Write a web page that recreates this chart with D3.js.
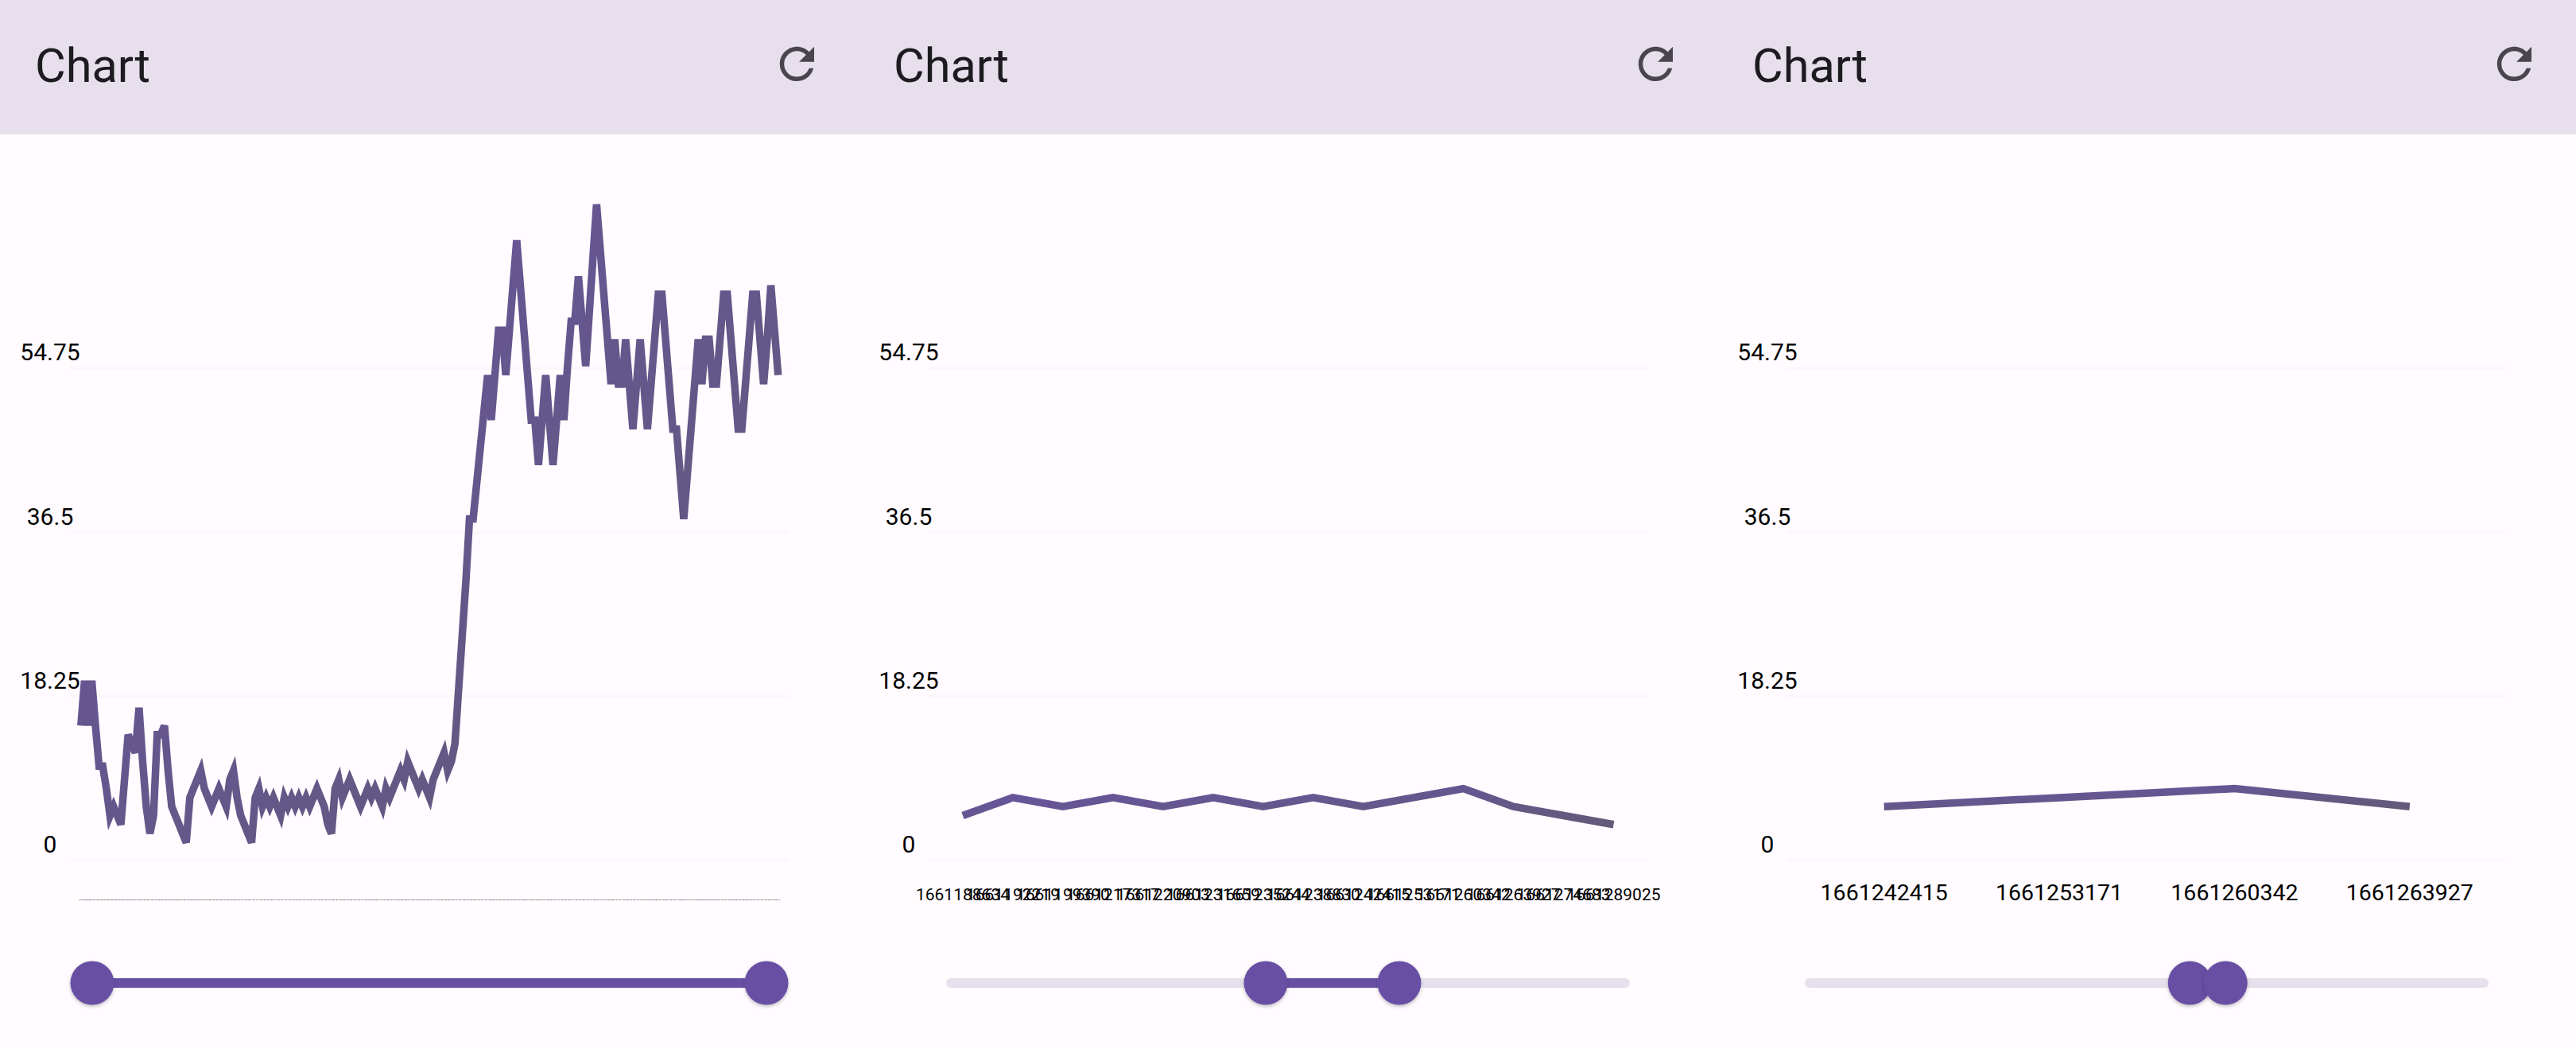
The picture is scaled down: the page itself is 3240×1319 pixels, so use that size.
<!DOCTYPE html>
<html>
<head>
<meta charset="utf-8">
<script src="https://cdn.jsdelivr.net/npm/d3@7"></script>
<style>
html,body{margin:0;padding:0;background:#FFFBFE;}
svg{display:block;}
</style>
</head>
<body>
<svg id="c" width="3240" height="1319"></svg>
<script>
const titleText = "Chart";
const yTicks = [0, 18.25, 36.5, 54.75];
const yMax = 73;

const stampsA = [
1660943415,1660947000,1660950586,1660954171,1660957757,1660961342,1660964927,1660968513,1660972098,1660975684,
1660979269,1660982854,1660986440,1660990025,1660993611,1660997196,1661000781,1661004367,1661007952,1661011538,
1661015123,1661018708,1661022294,1661025879,1661029465,1661033050,1661036635,1661040221,1661043806,1661047392,
1661050977,1661054562,1661058148,1661061733,1661065319,1661068904,1661072489,1661076075,1661079660,1661083246,
1661086831,1661090416,1661094002,1661097587,1661101173,1661104758,1661108343,1661111929,1661115514,1661119100,
1661122685,1661126270,1661129856,1661133441,1661137027,1661140612,1661144197,1661147783,1661151368,1661154954,
1661158539,1661162124,1661165710,1661169295,1661172881,1661176466,1661180051,1661183637,1661187222,1661190808,
1661194393,1661197978,1661201564,1661205149,1661208735,1661212320,1661215905,1661219491,1661223076,1661226662,
1661230247,1661233832,1661237418,1661241003,1661244589,1661248174,1661251759,1661255345,1661258930,1661262516,
1661266101,1661269686,1661273272,1661276857,1661280443,1661284028,1661287613,1661291199,1661294784,1661298370,
1661301955,1661305540,1661309126,1661312711,1661316297,1661319882,1661323467,1661327053,1661330638,1661334224,
1661337809,1661341394,1661344980,1661348565,1661352151,1661355736,1661359321,1661362907,1661366492,1661370078,
1661373663,1661377248,1661380834,1661384419,1661388005,1661391590,1661395175,1661398761,1661402346,1661405932,
1661409517,1661413102,1661416688,1661420273,1661423859,1661427444,1661431029,1661434615,1661438200,1661441786,
1661445371,1661448956,1661452542,1661456127,1661459713,1661463298,1661466883,1661470469,1661474054,1661477640,
1661481225,1661484810,1661488396,1661491981,1661495567,1661499152,1661502737,1661506323,1661509908,1661513494,
1661517079,1661520664,1661524250,1661527835,1661531421,1661535006,1661538591,1661542177,1661545762,1661549348,
1661552933,1661556518,1661560104,1661563689,1661567275,1661570860,1661574445,1661578031,1661581616,1661585202,
1661588787,1661592372,1661595958,1661599543,1661603129,1661606714,1661610299,1661613885,1661617470,1661621056,
1661624641,1661628226,1661631812];
const valuesA = [
15,20,15,20,15,10.5,10.5,8,5,6,
5,4,9,14,13,12,17,11,6,3,
5,14,14,15,10,6,5,4,3,2,
7,8,9,10,8,7,6,7,8,7,
6,9,10,7,5,4,3,2,7,8,
6,7,6,7,6,5,7,6,7,6,
7,6,7,6,7,8,7,6,4,3,
8,9,7,8,9,8,7,6,7,8,
7,8,7,6,8,7,8,9,10,9,
11,10,9,8,9,8,7,9,10,11,
12,10,11,13,19,25,31,38,38,42,
46,50,54,49,54,59,59,54,59,64,
69,64,59,54,49,49,44,49,54,49,
44,49,54,49,55,60,60,65,60,55,
61,67,73,68,63,58,53,58,53,53,
58,53,48,53,58,53,48,53,58,63,
63,58,53,48,48,43,38,43,48,53,
58,53,58,58,53,53,58,63,63,58,
53,48,48,53,58,63,63,58,53,58,
64,59,54];

const stampsB = [1661188634,1661192219,1661199390,1661217317,1661220903,1661231659,1661235244,1661238830,1661242415,1661253171,1661260342,1661263927,1661274683,1661289025];
const valuesB = [5,7,6,7,6,7,6,7,6,7,8,6,5,4];

const stampsC = [1661242415,1661253171,1661260342,1661263927];
const valuesC = [6,7,8,6];

const sliderLow = [0, 0.467, 0.564];
const sliderHigh = [1, 0.665, 0.617];
const stampFont = [1.1, 21, 28.5];

const iconPath = "M17.65 6.35C16.2 4.9 14.21 4 12 4c-4.42 0-7.99 3.58-7.99 8s3.57 8 7.99 8c3.73 0 6.84-2.55 7.73-6h-2.08c-.82 2.33-3.04 4-5.65 4-3.31 0-6-2.69-6-6s2.69-6 6-6c1.66 0 3.14.69 4.22 1.78L13 11h7V4l-2.35 2.35z";

const panels = [
  {stamps: stampsA, values: valuesA},
  {stamps: stampsB, values: valuesB},
  {stamps: stampsC, values: valuesC}
];

const PW = 1080;
const svg = d3.select("#c");
svg.append("rect").attr("width",3240).attr("height",1319).attr("fill","#FFFBFE");

const defs = svg.append("defs");
const grad = defs.append("linearGradient").attr("id","lineGrad")
  .attr("x1","0").attr("y1","0").attr("x2","1").attr("y2","1");
grad.append("stop").attr("offset","0").attr("stop-color","#6853A0");
grad.append("stop").attr("offset","1").attr("stop-color","#615B78");
const sh = defs.append("filter").attr("id","thumbShadow").attr("x","-30%").attr("y","-30%").attr("width","160%").attr("height","170%");
sh.append("feDropShadow").attr("dx",0).attr("dy",2).attr("stdDeviation",2).attr("flood-color","#000").attr("flood-opacity",0.25);

const y = d3.scaleLinear().domain([0,yMax]).range([1082,257]);
const sliderX = d3.scaleLinear().domain([0,1]).range([116,964]);
const FONT = "Roboto, sans-serif";

panels.forEach((p,idx)=>{
  const g = svg.append("g").attr("transform",`translate(${idx*PW},0)`);
  // header
  g.append("rect").attr("x",0).attr("y",0).attr("width",PW).attr("height",169).attr("fill","#E7E0EC");
  g.append("text").attr("x",44).attr("y",103).text(titleText)
    .attr("font-family",FONT).attr("font-size",59.5).attr("fill","#1C1B1F");
  g.append("path").attr("d",iconPath).attr("fill","#49454F")
    .attr("transform","translate(970,48) scale(2.7)");

  // y axis with grid
  const yAxis = d3.axisLeft(y).tickValues(yTicks).tickFormat(d=>String(d)).tickSize(-904).offset(0);
  const ya = g.append("g").attr("transform","translate(88,0)").call(yAxis);
  ya.select(".domain").remove();
  ya.selectAll(".tick line").attr("stroke","#FBF7FA").attr("stroke-width",4);
  ya.selectAll(".tick text").attr("x",-25).attr("y",-10).attr("dy",0)
    .attr("text-anchor","middle").attr("font-family",FONT).attr("font-size",30).attr("fill","#000");

  // x axis
  const x = d3.scalePoint().domain(p.stamps).range([99.5,981]).padding(0.5);
  const xAxis = d3.axisBottom(x).tickSize(0).tickPadding(0).tickFormat(d=>String(d)).offset(0);
  const xa = g.append("g").attr("transform","translate(0,1132)").call(xAxis);
  xa.select(".domain").remove();
  xa.selectAll(".tick line").remove();
  xa.selectAll(".tick text").attr("y",0).attr("dy",0)
    .attr("text-anchor","middle").attr("font-family",FONT).attr("font-size",stampFont[idx]).attr("fill","#000");

  // line
  const line = d3.line().x((d,i)=>x(p.stamps[i])).y(d=>y(d));
  g.append("path").datum(p.values).attr("d",line).attr("fill","none")
    .attr("stroke","url(#lineGrad)").attr("stroke-width",9.5)
    .attr("stroke-linejoin","miter").attr("stroke-miterlimit",4).attr("stroke-linecap","butt");

  // slider
  const cy = 1236;
  g.append("rect").attr("x",110).attr("y",cy-6).attr("width",860).attr("height",12).attr("rx",6).attr("fill","#E7E0EC");
  g.append("rect").attr("x",sliderX(sliderLow[idx])).attr("y",cy-6)
    .attr("width",sliderX(sliderHigh[idx])-sliderX(sliderLow[idx])).attr("height",12).attr("fill","#6750A4");
  [sliderLow[idx],sliderHigh[idx]].forEach(v=>{
    g.append("circle").attr("cx",sliderX(v)).attr("cy",cy).attr("r",27.5)
      .attr("fill","#6750A4").attr("filter","url(#thumbShadow)");
  });
});
</script>
</body>
</html>
